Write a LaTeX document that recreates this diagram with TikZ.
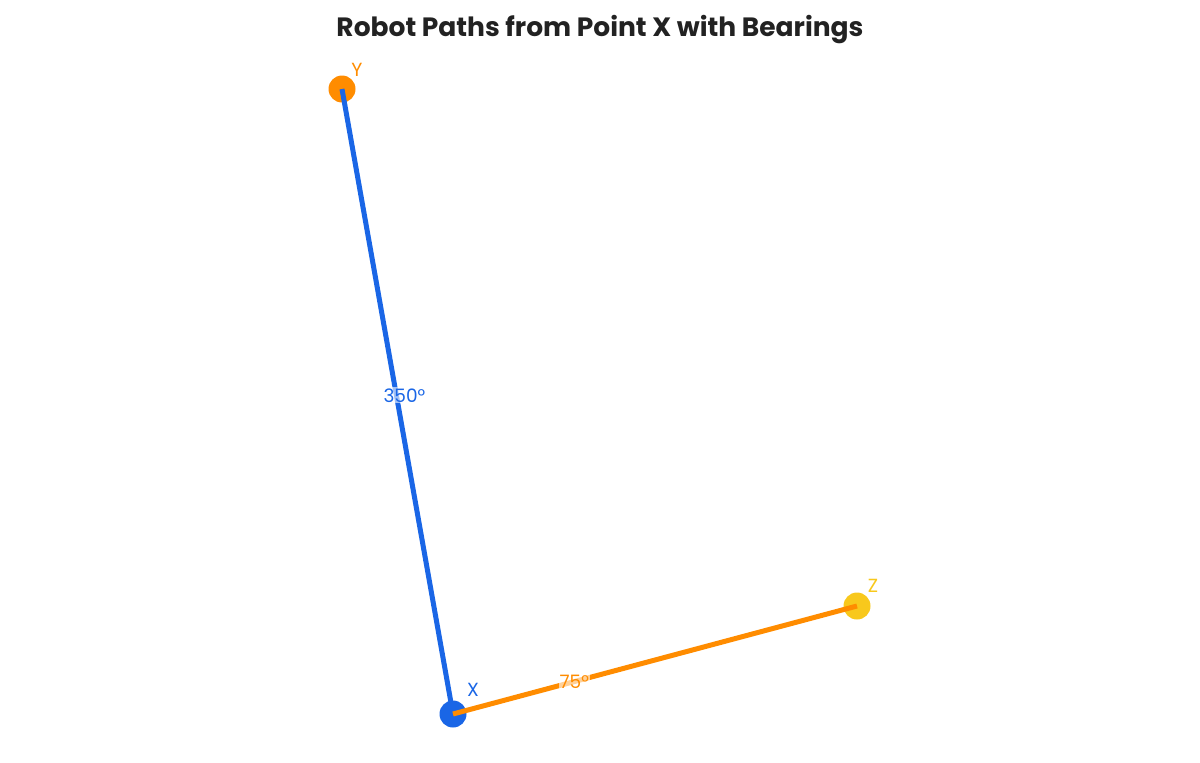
\documentclass[tikz,border=0pt]{standalone}
\usepackage{fontspec}
\setmainfont{Poppins}
\definecolor{cblue}{HTML}{1A66E6}
\definecolor{corange}{HTML}{FF8C00}
\definecolor{cyellow}{HTML}{F8C81C}
\definecolor{ctitle}{HTML}{222222}
\begin{document}
\begin{tikzpicture}[x=1pt,y=-1pt,
  dot/.style={circle,fill=#1,minimum size=27pt,inner sep=0pt},
  ptlabel/.style={text=#1,font=\fontsize{19}{19}\selectfont,inner sep=0pt},
  path/.style={line width=5pt,draw=#1},
  bearing/.style={text=#1,font=\fontsize{18.5}{18.5}\selectfont,fill=white,fill opacity=0.6,text opacity=1,inner sep=1pt}]
\useasboundingbox (0,0) rectangle (1200,763);
\node[font=\fontsize{26.5}{26.5}\selectfont\bfseries,text=ctitle] (title) at (600,30) {Robot Paths from Point X with Bearings};
\node[dot=cblue] (X) at (453,714) {};
\node[dot=corange] (Y) at (342,89) {};
\node[dot=cyellow] (Z) at (857,606) {};
\node[ptlabel=corange] (ly) at (357,70) {Y};
\node[ptlabel=cblue] (lx) at (473,690) {X};
\node[ptlabel=cyellow] (lz) at (873,586) {Z};
\draw[path=cblue] (X.center) -- node[bearing=cblue,pos=0.51,xshift=8pt] (b1) {350°} (Y.center);
\draw[path=corange] (X.center) -- node[bearing=corange,pos=0.30] (b2) {75°} (Z.center);
\end{tikzpicture}
\end{document}
